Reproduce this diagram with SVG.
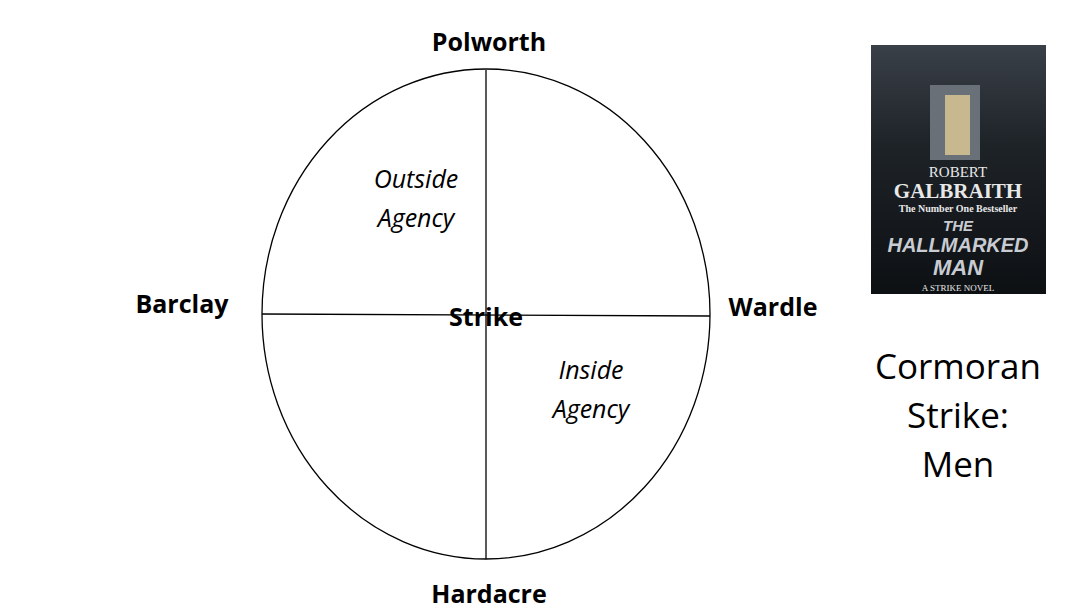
<svg xmlns="http://www.w3.org/2000/svg" width="1083" height="609" viewBox="0 0 1083 609">
<style>
.b{font-family:"Open Sans","Liberation Sans",sans-serif;font-weight:bold;font-size:25px;text-anchor:middle;fill:#000}
.i{font-family:"Open Sans","Liberation Sans",sans-serif;font-style:italic;font-size:25px;text-anchor:middle;fill:#000}
.t{font-family:"Open Sans","Liberation Sans",sans-serif;font-size:35px;text-anchor:middle;fill:#000}
.c{font-family:"Liberation Serif",serif;text-anchor:middle;fill:#e8e8e8}
.h{font-family:"Liberation Sans",sans-serif;font-style:italic;font-weight:bold;text-anchor:middle;fill:#c8ccd2}
</style>
<defs><linearGradient id="g" x1="0" y1="0" x2="0" y2="1"><stop offset="0" stop-color="#3a4048"/><stop offset="0.4" stop-color="#1e2328"/><stop offset="1" stop-color="#0d1013"/></linearGradient></defs>
<rect width="1083" height="609" fill="#fff"/>
<g id="connectors" stroke="#000" stroke-width="1.3" fill="none">
<ellipse cx="486" cy="314" rx="224" ry="245"/>
<line x1="486" y1="70" x2="486" y2="559"/>
<line x1="262" y1="314" x2="710" y2="316"/>
</g>
<g id="polworth"><text class="b" x="489" y="51">Polworth</text></g>
<g id="barclay"><text class="b" x="182" y="313">Barclay</text></g>
<g id="wardle"><text class="b" x="773" y="316">Wardle</text></g>
<g id="hardacre"><text class="b" x="489" y="603">Hardacre</text></g>
<g id="strike"><text class="b" x="486" y="326">Strike</text></g>
<g id="outside"><text class="i" x="416" y="188">Outside</text><text class="i" x="416" y="227">Agency</text></g>
<g id="inside"><text class="i" x="591" y="379">Inside</text><text class="i" x="591" y="418">Agency</text></g>
<g id="title"><text class="t" x="958" y="379">Cormoran</text><text class="t" x="958" y="428">Strike:</text><text class="t" x="958" y="477">Men</text></g>
<g id="cover">
<rect x="871" y="45" width="175" height="249" fill="url(#g)"/>
<rect x="930" y="85" width="50" height="75" fill="#6a7078"/>
<rect x="945" y="95" width="25" height="60" fill="#c8b890"/>
<text class="c" x="958" y="177" font-size="15">ROBERT</text>
<text class="c" x="958" y="198" font-size="21" font-weight="bold">GALBRAITH</text>
<text class="c" x="958" y="212" font-size="10" font-weight="bold">The Number One Bestseller</text>
<text class="h" x="958" y="231" font-size="15">THE</text>
<text class="h" x="958" y="252" font-size="20">HALLMARKED</text>
<text class="h" x="958" y="275" font-size="22">MAN</text>
<text class="c" x="958" y="291" font-size="9">A STRIKE NOVEL</text>
</g>
</svg>
